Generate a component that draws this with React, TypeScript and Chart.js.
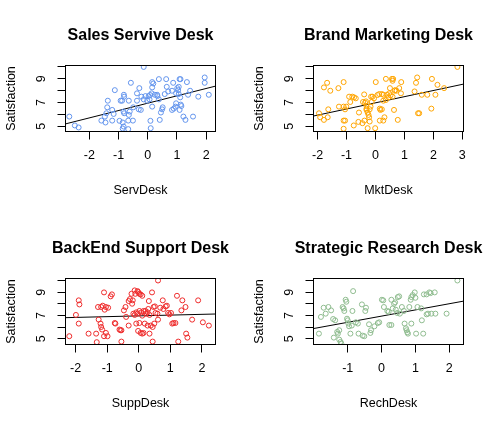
import React, { useEffect, useRef } from "react";
import { Chart, registerables } from "chart.js";

Chart.register(...registerables);

const FONT = "'Liberation Sans', Arial, Helvetica, sans-serif";

// Shared y axis (Satisfaction)
const satisfactionTicks = [5, 6, 7, 8, 9, 10];
const satisfactionTickLabels = [5, 7, 9];

// Panel 1: Sales Service Desk
const servDeskX = [
  -0.14, -2.69, -2.5, -2.37, -1.59, -1.45, -1.47, -1.42, -1.39, -1.37,
  -1.22, -1.22, -1.17, -1.13, -0.97, -0.86, -0.83, -0.86, -0.81, -0.83,
  -0.88, -0.93, -0.82, -0.81, -0.67, -0.67, -0.65, -0.62, -0.65, -0.58,
  -0.51, -0.5, -0.37, -0.37, -0.31, -0.29, -0.24, -0.22, -0.14, -0.08,
  -0.02, 0.03, 0.06, 0.08, 0.13, 0.15, 0.15, 0.19, 0.15, 0.09,
  0.1, 0.24, 0.32, 0.33, 0.38, 0.38, 0.41, 0.45, 0.49, 0.51,
  0.58, 0.63, 0.65, 0.7, 0.83, 0.87, 0.89, 0.83, 0.95, 0.97,
  0.97, 1.01, 1.04, 1.06, 1.12, 1.09, 1.06, 1.11, 1.13, 1.15,
  1.09, 1.22, 1.29, 1.34, 1.38, 1.45, 1.55, 1.73, 1.95, 1.95, 2.09,
];
const servDeskSat = [
  10.0, 5.81, 5.06, 4.89, 5.47, 5.31, 5.81, 6.09, 6.59, 7.15,
  6.37, 5.47, 6.03, 8.04, 5.45, 5.31, 4.97, 4.8, 6.09, 6.23,
  7.15, 7.15, 7.65, 7.49, 4.75, 5.47, 5.95, 6.23, 7.15, 8.66,
  5.47, 6.59, 7.77, 7.15, 6.42, 8.21, 6.37, 7.49, 7.26, 7.54,
  7.15, 7.54, 7.26, 7.63, 7.77, 8.27, 8.72, 8.6, 6.65, 5.45,
  4.83, 7.65, 7.65, 7.54, 8.97, 7.26, 5.53, 6.15, 6.42, 6.59,
  7.71, 8.97, 8.32, 7.93, 7.99, 8.66, 6.48, 6.37, 6.65, 6.93,
  7.77, 8.21, 8.04, 8.32, 8.97, 8.97, 7.71, 7.43, 6.82, 6.7,
  6.37, 5.81, 5.53, 8.72, 7.65, 7.99, 5.81, 7.49, 9.11, 8.66, 7.65,
];

// Panel 2: Brand Marketing Desk
const mktDeskX = [
  -1.95, -1.91, -1.78, -1.65, -1.63, -1.78, -1.67, -1.56, -1.28, -1.1,
  -1.26, -1.1, -1.05, -1.01, -1.1, -1.05, -1.1, -0.91, -0.8, -0.74,
  -0.68, -0.87, -0.75, -0.59, -0.57, -0.39, -0.43, -0.36, -0.33, -0.31,
  -0.45, -0.38, -0.31, -0.31, -0.27, -0.24, -0.22, -0.2, -0.17, -0.13,
  -0.15, -0.27, -0.2, -0.01, 0.01, -0.05, -0.1, 0.07, 0.13, 0.15,
  0.17, 0.22, 0.22, 0.27, 0.15, 0.27, 0.31, 0.27, 0.36, 0.36,
  0.4, 0.45, 0.5, 0.47, 0.52, 0.57, 0.59, 0.61, 0.59, 0.64,
  0.66, 0.68, 0.73, 0.77, 0.82, 0.89, 0.88, 1.35, 1.4, 1.44,
  1.47, 1.51, 1.6, 1.79, 1.95, 1.93, 2.07, 2.14, 2.37, 2.83,
];
const mktDeskSat = [
  6.09, 5.75, 5.53, 5.75, 6.42, 8.27, 8.66, 7.99, 8.21, 8.72,
  6.65, 6.65, 6.42, 6.65, 5.47, 5.47, 4.78, 7.49, 7.49, 7.43,
  7.35, 7.04, 5.06, 5.36, 6.15, 7.68, 7.04, 6.98, 7.09, 6.7,
  5.25, 5.47, 6.48, 6.37, 6.15, 5.95, 5.75, 5.39, 6.65, 7.04,
  7.49, 4.83, 6.42, 4.83, 8.72, 7.35, 7.49, 7.63, 7.71, 6.48,
  6.37, 6.42, 7.71, 7.65, 5.47, 5.47, 5.75, 7.15, 8.99, 7.21,
  7.65, 7.43, 8.21, 7.77, 7.6, 8.99, 8.83, 8.99, 7.49, 6.37,
  7.99, 8.04, 7.99, 5.53, 8.21, 8.72, 7.77, 7.93, 8.66, 9.11,
  6.09, 6.09, 7.65, 7.65, 8.99, 6.48, 7.65, 8.49, 8.21, 10.0,
];

// Panel 3: BackEnd Support Desk
const suppDeskX = [
  -2.2, -1.99, -1.9, -1.88, -1.9, -1.59, -1.35, -1.33, -1.27, -1.21,
  -1.19, -1.16, -1.1, -1.04, -0.99, -1.29, -1.19, -1.14, -1.1, -1.08,
  -1.04, -0.97, -0.89, -0.85, -0.76, -0.74, -0.61, -0.58, -0.55, -0.55,
  -0.47, -0.42, -0.4, -0.32, -0.32, -0.28, -0.23, -0.21, -0.19, -0.13,
  -0.11, -0.04, -0.02, 0.02, 0.06, 0.11, -0.17, -0.13, -0.08, -0.04,
  0.02, 0.08, 0.11, 0.15, 0.21, 0.23, 0.28, 0.3, 0.34, -0.08,
  -0.02, 0.02, 0.06, 0.11, 0.15, 0.19, 0.28, 0.34, 0.38, 0.44,
  0.49, 0.44, 0.32, 0.42, 0.47, 0.51, 0.53, 0.59, 0.61, 0.68,
  0.76, 0.78, 0.85, 0.89, 0.93, 0.97, 1.02, 1.06, 1.1, 1.16,
  1.21, 1.25, 1.35, 1.38, 1.48, 1.5, 1.54, 1.69, 1.88, 2.03,
  2.22, 0.61,
];
const suppDeskSat = [
  5.23, 7.05, 8.3, 7.95, 6.31, 5.45, 5.45, 4.72, 6.65, 6.31,
  6.02, 5.8, 5.23, 5.51, 5.23, 7.73, 7.73, 7.84, 8.98, 7.5,
  7.73, 7.67, 8.64, 8.81, 6.36, 6.31, 5.8, 5.74, 5.74, 4.77,
  7.44, 7.73, 6.88, 6.14, 8.24, 8.41, 8.86, 8.01, 8.3, 9.15,
  8.86, 9.09, 9.01, 8.86, 8.81, 8.69, 7.16, 7.05, 7.27, 7.16,
  7.39, 7.27, 6.99, 7.39, 7.39, 7.16, 7.27, 7.56, 7.05, 6.31,
  5.68, 6.36, 5.51, 5.45, 5.51, 6.31, 6.14, 5.45, 6.14, 6.02,
  6.31, 4.77, 8.24, 8.98, 7.73, 7.78, 7.22, 7.16, 6.65, 7.67,
  8.3, 7.56, 7.78, 7.84, 7.22, 7.1, 7.22, 6.31, 6.36, 6.36,
  8.69, 4.77, 7.44, 8.3, 7.73, 5.45, 5.11, 6.65, 8.3, 6.42,
  6.14, 10.0,
];

// Panel 4: Strategic Research Desk
const rechDeskX = [
  -1.85, -1.79, -1.71, -1.65, -1.57, -1.49, -1.43, -1.37, -1.41, -1.31,
  -1.29, -1.25, -1.25, -1.21, -1.19, -1.15, -1.12, -1.1, -1.06, -1.04,
  -1.02, -1.0, -0.98, -0.96, -0.92, -0.88, -0.86, -0.84, -0.76, -0.7,
  -0.68, -0.58, -0.56, -0.51, -0.48, -0.46, -0.37, -0.33, -0.31, -0.21,
  -0.11, -0.07, 0.01, 0.05, 0.07, 0.17, 0.21, 0.23, 0.29, 0.29,
  0.33, 0.37, 0.4, 0.42, 0.46, 0.48, 0.52, 0.54, 0.6, 0.66,
  0.68, 0.72, 0.74, 0.76, 0.78, 0.82, 0.86, 0.88, 0.88, 0.92,
  0.98, 1.0, 1.02, 1.06, 1.17, 1.19, 1.23, 1.25, 1.33, 1.41,
  1.45, 1.57, 1.33, 1.37, 1.47, 1.59, 1.92, 2.24,
];
const rechDeskSat = [
  5.45, 6.88, 7.67, 7.16, 7.73, 7.44, 6.7, 6.59, 5.11, 5.6,
  5.45, 5.74, 4.94, 4.74, 4.6, 7.73, 7.61, 7.39, 8.35, 8.18,
  6.73, 6.59, 6.31, 6.08, 5.45, 6.14, 7.39, 9.09, 6.42, 6.31,
  5.45, 7.95, 5.28, 5.23, 7.39, 7.67, 6.25, 5.51, 5.74, 6.08,
  6.36, 6.42, 8.35, 8.3, 7.73, 7.39, 7.33, 6.19, 6.19, 8.35,
  7.61, 8.01, 8.13, 7.5, 7.22, 8.58, 8.64, 7.16, 7.73, 7.39,
  6.31, 5.91, 5.74, 5.57, 5.45, 7.73, 8.35, 8.58, 6.31, 8.75,
  8.98, 8.52, 5.45, 7.73, 7.61, 6.59, 5.45, 8.81, 8.81, 8.98,
  8.92, 8.98, 7.1, 7.16, 7.16, 7.16, 7.16, 10.0,
];

const panelTitles = [
  "Sales Servive Desk",
  "Brand Marketing Desk",
  "BackEnd Support Desk",
  "Strategic Research Desk",
];
const xAxisNames = ["ServDesk", "MktDesk", "SuppDesk", "RechDesk"];
const xTickSets = [
  [-2, -1, 0, 1, 2],
  [-2, -1, 0, 1, 2, 3],
  [-2, -1, 0, 1, 2],
  [-1, 0, 1, 2],
];
const xLimits = [
  [-2.82, 2.32],
  [-2.14, 3.04],
  [-2.32, 2.43],
  [-2.01, 2.42],
];
const yLimits = [
  [4.55, 10.12],
  [4.55, 10.12],
  [4.52, 10.17],
  [4.52, 10.17],
];
// Fitted regression lines (intercept, slope)
const fitIntercepts = [6.94, 6.97, 6.97, 6.95];
const fitSlopes = [0.62, 0.52, 0.066, 0.53];

const xValueSets = [servDeskX, mktDeskX, suppDeskX, rechDeskX];
const yValueSets = [servDeskSat, mktDeskSat, suppDeskSat, rechDeskSat];

// Layout / style (not data)
const W = 497;
const H = 427;
const panelBoxes = [
  { l: 65.5, t: 65.5, r: 215.5, b: 131.5 },
  { l: 313.5, t: 65.5, r: 463.5, b: 131.5 },
  { l: 65.5, t: 278.5, r: 215.5, b: 344.5 },
  { l: 313.5, t: 278.5, r: 463.5, b: 344.5 },
];
const pointColors = ["#6495ED", "#FFA500", "#EE2C2C", "#8FBC8F"];
const Y_AXIS_W = 30;
const X_AXIS_H = 40;
const TICK_LEN = 8;
const LABEL_SIZE = 12.5;

function Panel({ idx }: { idx: number }) {
  const ref = useRef<HTMLCanvasElement | null>(null);

  useEffect(() => {
    const canvas = ref.current;
    if (!canvas) return;
    const box = panelBoxes[idx];
    const xs = xValueSets[idx];
    const ys = yValueSets[idx];
    const pts = xs.map((x, i) => ({ x, y: ys[i] }));
    const [xmin, xmax] = xLimits[idx];
    const [ymin, ymax] = yLimits[idx];
    const a = fitIntercepts[idx];
    const b = fitSlopes[idx];
    const linePts = [
      { x: xmin, y: a + b * xmin },
      { x: xmax, y: a + b * xmax },
    ];

    const decor = {
      id: "rDecor" + idx,
      afterDraw(chart: any) {
        const ctx = chart.ctx as CanvasRenderingContext2D;
        const ca = chart.chartArea;
        ctx.save();
        ctx.strokeStyle = "#000";
        ctx.lineWidth = 1;
        ctx.strokeRect(ca.left, ca.top, ca.right - ca.left, ca.bottom - ca.top);
        ctx.fillStyle = "#000";
        // title
        ctx.font = `bold 16px ${FONT}`;
        ctx.textAlign = "center";
        ctx.textBaseline = "alphabetic";
        ctx.fillText(panelTitles[idx], (ca.left + ca.right) / 2, ca.top - 25.5);
        // x axis name
        ctx.font = `${LABEL_SIZE}px ${FONT}`;
        ctx.fillText(xAxisNames[idx], (ca.left + ca.right) / 2, ca.bottom + 62);
        // y tick labels (rotated like R)
        const yScale = chart.scales.y;
        for (const v of satisfactionTickLabels) {
          const py = yScale.getPixelForValue(v);
          ctx.save();
          ctx.translate(ca.left - 20.5, py);
          ctx.rotate(-Math.PI / 2);
          ctx.fillText(String(v), 0, 0);
          ctx.restore();
        }
        // y axis name
        ctx.save();
        ctx.translate(ca.left - 50.5, (ca.top + ca.bottom) / 2);
        ctx.rotate(-Math.PI / 2);
        ctx.fillText("Satisfaction", 0, 0);
        ctx.restore();
        ctx.restore();
      },
    };

    const chart = new Chart(canvas, {
      type: "scatter",
      data: {
        datasets: [
          {
            data: pts,
            pointStyle: "circle",
            pointRadius: 2.5,
            pointBorderWidth: 1,
            pointBorderColor: pointColors[idx],
            pointBackgroundColor: "rgba(0,0,0,0)",
            showLine: false,
          },
          {
            data: linePts,
            showLine: true,
            borderColor: "#000",
            borderWidth: 1,
            pointRadius: 0,
            fill: false,
          },
        ],
      },
      options: {
        animation: false,
        responsive: false,
        events: [],
        layout: {
          padding: {
            left: box.l - Y_AXIS_W,
            top: box.t,
            right: W - box.r,
            bottom: H - box.b - X_AXIS_H,
          },
        },
        plugins: {
          legend: { display: false },
          tooltip: { enabled: false },
          title: { display: false },
        },
        scales: {
          x: {
            type: "linear",
            min: xmin,
            max: xmax,
            afterBuildTicks: (s: any) => {
              s.ticks = xTickSets[idx].map((v) => ({ value: v }));
            },
            afterFit: (s: any) => {
              s.height = X_AXIS_H;
            },
            grid: {
              drawOnChartArea: false,
              drawTicks: true,
              tickLength: TICK_LEN,
              color: "#000",
              lineWidth: 1,
            },
            border: { display: false },
            ticks: {
              color: "#000",
              font: { size: LABEL_SIZE, family: FONT },
              padding: 9,
              maxRotation: 0,
              minRotation: 0,
              autoSkip: false,
              callback: (v: any) => String(v),
            },
          },
          y: {
            type: "linear",
            min: ymin,
            max: ymax,
            afterBuildTicks: (s: any) => {
              s.ticks = satisfactionTicks.map((v) => ({ value: v }));
            },
            afterFit: (s: any) => {
              s.width = Y_AXIS_W;
            },
            grid: {
              drawOnChartArea: false,
              drawTicks: true,
              tickLength: TICK_LEN,
              color: "#000",
              lineWidth: 1,
            },
            border: { display: false },
            ticks: { display: false },
          },
        },
      } as any,
      plugins: [decor],
    });
    return () => chart.destroy();
  }, [idx]);

  return (
    <canvas
      ref={ref}
      width={W}
      height={H}
      style={{ position: "absolute", left: 0, top: 0, width: W, height: H }}
    />
  );
}

export default function App() {
  return (
    <div
      style={{
        position: "fixed",
        left: 0,
        top: 0,
        width: W,
        height: H,
        background: "#fff",
        overflow: "hidden",
      }}
    >
      {[0, 1, 2, 3].map((i) => (
        <Panel key={i} idx={i} />
      ))}
    </div>
  );
}
